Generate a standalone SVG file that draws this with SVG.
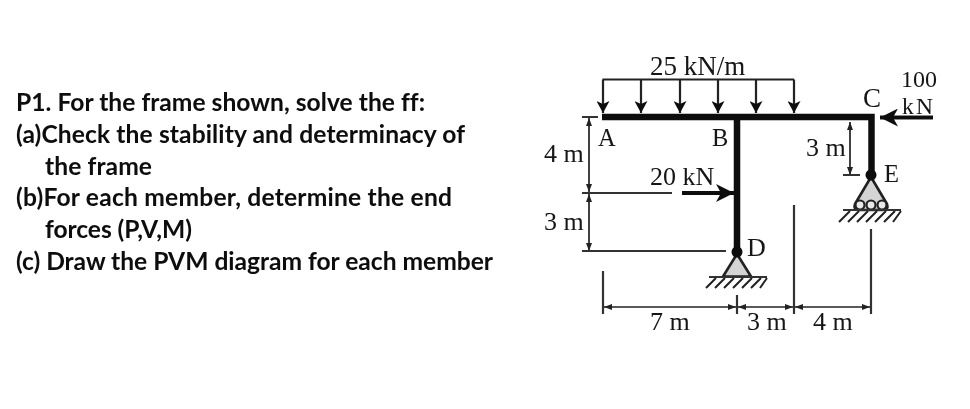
<svg xmlns="http://www.w3.org/2000/svg" width="970" height="409" viewBox="0 0 970 409">
<style>
.q{font:700 24.6px Lato,"Open Sans",sans-serif;fill:#0a0a0a;font-variant-ligatures:none}
.l{font:27px "Liberation Serif",serif;fill:#141414}
.m{font:26px "Liberation Serif",serif;fill:#141414}
.s{font:24.500px "Liberation Serif",serif;fill:#141414}
.dim{stroke:#222;stroke-width:1.7;fill:none}
.ext{stroke:#333;stroke-width:2.2;fill:none}
.mem{stroke:#0c0c0c;stroke-width:6.5;fill:none}
.load{stroke:#222;stroke-width:2.2;fill:none}
.force{stroke:#111;stroke-width:4;fill:none}
.tri{fill:#d4d4d4;stroke:#222;stroke-width:2.6;stroke-linejoin:round}
.hatch{stroke:#222;stroke-width:2;fill:none}
.roll{fill:#e8e8e8;stroke:#222;stroke-width:2.2}
</style>
<defs>
<filter id="soft" x="0" y="0" width="1" height="1"><feGaussianBlur stdDeviation="0.35"/></filter>
<marker id="ah" viewBox="0 0 12 13" refX="12" refY="6.500" markerWidth="12" markerHeight="13" markerUnits="userSpaceOnUse" orient="auto"><path d="M0 0L12 6.500L0 13L3 6.500Z" fill="#111"/></marker>
<marker id="dh" viewBox="0 0 8 6" refX="8" refY="3" markerWidth="8" markerHeight="6" markerUnits="userSpaceOnUse" orient="auto-start-reverse"><path d="M0 0L8 3L0 6Z" fill="#222"/></marker>
<marker id="fh" viewBox="0 0 18 18" refX="18" refY="9" markerWidth="18" markerHeight="18" markerUnits="userSpaceOnUse" orient="auto"><path d="M0 0L18 9L0 18L5 9Z" fill="#111"/></marker>
</defs>
<rect width="970" height="409" fill="#fff"/>
<g filter="url(#soft)">
<g id="problem-text" class="q">
<text x="16" y="111" textLength="409">P1. For the frame shown, solve the ff:</text>
<text x="16" y="143" textLength="449">(a)Check the stability and determinacy of</text>
<text x="45" y="175" textLength="107">the frame</text>
<text x="16" y="206" textLength="436">(b)For each member, determine the end</text>
<text x="45" y="238" textLength="147">forces (P,V,M)</text>
<text x="16" y="270" textLength="477">(c) Draw the PVM diagram for each member</text>
</g>
<g id="connectors">
<path class="load" d="M602.500 79.500H794"/>
<path class="load" marker-end="url(#ah)" d="M603 79.500V113"/>
<path class="load" marker-end="url(#ah)" d="M641 79.500V113"/>
<path class="load" marker-end="url(#ah)" d="M680 79.500V113"/>
<path class="load" marker-end="url(#ah)" d="M718 79.500V113"/>
<path class="load" marker-end="url(#ah)" d="M756 79.500V113"/>
<path class="load" marker-end="url(#ah)" d="M794 79.500V113"/>
<path class="force" marker-end="url(#fh)" d="M682 193H734"/>
<path class="force" marker-end="url(#fh)" d="M933 117.500H880"/>
<path class="dim" marker-start="url(#dh)" marker-end="url(#dh)" d="M589 118V192"/>
<path class="dim" marker-start="url(#dh)" marker-end="url(#dh)" d="M589 194V251"/>
<path class="dim" marker-start="url(#dh)" marker-end="url(#dh)" d="M850 122V175"/>
<path class="dim" marker-start="url(#dh)" marker-end="url(#dh)" d="M604 307H736"/>
<path class="dim" marker-start="url(#dh)" marker-end="url(#dh)" d="M738 307H793"/>
<path class="dim" marker-start="url(#dh)" marker-end="url(#dh)" d="M795 307H870"/>
<path class="ext" d="M582 117H598M582 193H672M582 251H726M843 175H860M603 271V314M737 295V314M794 205V314M871 229V314"/>
<text class="l" x="650" y="75">25 kN/m</text>
<text class="m" x="544" y="162">4 m</text>
<text class="m" x="544" y="230">3 m</text>
<text class="m" x="650" y="185">20 kN</text>
<text class="m" x="806" y="156">3 m</text>
<text class="m" x="650" y="330">7 m</text>
<text class="m" x="747" y="330">3 m</text>
<text class="m" x="813" y="330">4 m</text>
<text class="s" style="font-size:24px" x="901" y="87">100</text>
<text class="s" style="font-size:23.500px" x="902" y="113.500" textLength="31">kN</text>
</g>
<g id="node-A"><text class="s" x="598" y="146">A</text></g>
<g id="node-B"><text class="s" x="712" y="146">B</text></g>
<g id="node-C"><text class="l" x="863" y="107">C</text></g>
<g id="frame"><path class="mem" d="M602 117H871.500V175M737 117V252"/></g>
<g id="node-D">
<path class="tri" d="M737 254L723 276.500H751Z"/>
<circle cx="737" cy="252" r="5.500" fill="#0c0c0c"/>
<path class="ext" d="M709 277H767"/>
<path class="hatch" d="M716 278L706 288M725 278L715 288M734 278L724 288M743 278L733 288M752 278L742 288M761 278L751 288M767 278L760 288"/>
<text class="m" x="747" y="256">D</text>
</g>
<g id="node-E">
<path class="tri" d="M871 177L855 204Q853 210 859 210H883Q889 210 887 204Z"/>
<circle class="roll" cx="860" cy="205" r="4.500"/><circle class="roll" cx="871" cy="205" r="4.500"/><circle class="roll" cx="882" cy="205" r="4.500"/>
<circle cx="871" cy="175" r="5.500" fill="#0c0c0c"/>
<path class="ext" d="M843 210H901"/>
<path class="hatch" d="M850 211L839 222M859 211L848 222M868 211L857 222M877 211L866 222M886 211L875 222M895 211L884 222M901 211L893 222"/>
<text class="s" x="884" y="182">E</text>
</g>
</g>
</svg>
